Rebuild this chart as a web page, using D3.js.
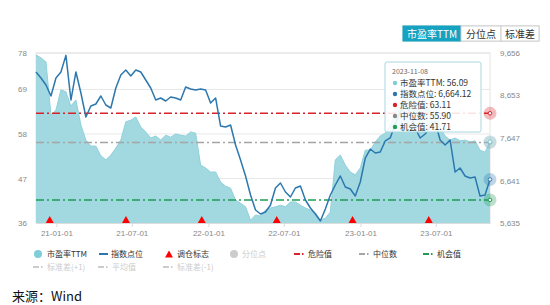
<!DOCTYPE html>
<html>
<head>
<meta charset="utf-8">
<script src="https://cdn.jsdelivr.net/npm/d3@7"></script>
<style>
  body { margin: 0; background: #fff; }
  svg { display: block; font-family: "Noto Sans CJK SC", "Noto Sans", sans-serif; }
</style>
</head>
<body>
<svg id="chart" width="550" height="305"></svg>
<script>
// data
const startDate = "2020-11-13";
const endDate = "2023-11-08";

const peTTM = [
  77.5, 76.8, 75.8, 62.7, 63.9, 68.9, 68.4, 64.9, 66.4, 60.2,
  56.5, 55.0, 55.0, 52.6, 51.6, 52.8, 54.5, 56.5, 61.0, 61.4,
  62.2, 59.7, 58.5, 57.0, 57.5, 56.5, 57.7, 57.2, 58.0, 57.7,
  57.5, 58.5, 58.2, 50.3, 49.6, 48.6, 48.6, 46.1, 45.1, 44.6,
  41.7, 40.9, 40.0, 36.7, 38.0, 37.7, 39.2, 39.7, 40.0, 40.4,
  40.0, 41.2, 41.2, 40.4, 39.7, 39.2, 38.5, 36.7, 37.2, 38.7,
  51.6, 52.8, 50.3, 48.6, 47.9, 49.6, 54.0, 54.0, 56.0, 57.5,
  58.2, 60.0, 63.4, 65.9, 67.4, 66.4, 68.4, 65.4, 66.9, 64.4,
  65.4, 59.5, 57.5, 56.5, 57.0, 56.3, 56.5, 56.0, 56.3, 54.0,
  53.5, 56.09
];

const indexLevel = [
  9207, 9065, 8899, 8639, 9065, 9207, 9600, 8544, 9207, 8710,
  8142, 8402, 8450, 8639, 8426, 8355, 8828, 9136, 9254, 9112,
  9254, 9207, 9017, 8828, 8544, 8592, 8521, 8615, 8592, 8544,
  8852, 8805, 8781, 8805, 8781, 8473, 8592, 7929, 7906, 7953,
  7480, 7125, 6747, 6297, 5942, 5848, 5895, 6061, 6463, 6581,
  6368, 6250, 6463, 6510, 6179, 5990, 5848, 5682, 5966, 6297,
  6534, 6747, 6487, 6439, 6274, 6605, 7172, 7385, 7291, 7314,
  7575, 7646, 7977, 8260, 8426, 8260, 7882, 7646, 7740, 7906,
  8024, 7598, 7480, 7598, 6841, 6936, 6747, 6699, 6723, 6274,
  6297, 6664.12
];

const rebalanceDates = ["2020-12-16", "2021-06-17", "2021-12-16", "2022-06-14", "2022-12-13", "2023-06-14"];
const xTickDates = ["2021-01-01", "2021-07-01", "2022-01-01", "2022-07-01", "2023-01-01", "2023-07-01"];
const peTicks = [36, 47, 58, 69, 78];
const indexTicks = [5635, 6641, 7647, 8653, 9656];

const refNames = ["危险值", "中位数", "机会值"];
const refValues = [63.11, 55.90, 41.71];

const tabNames = ["市盈率TTM", "分位点", "标准差"];

// styles
const refColors = ["#d8232a", "#a5a5a5", "#1f9d55"];
const peColor = "#7fcdd8";
const areaColor = "#a2d9e1";
const indexColor = "#2c78ae";

const width = 550, height = 305;
const margin = { top: 53, right: 60, bottom: 82, left: 36 };

const svg = d3.select("#chart");
const parse = d3.timeParse("%Y-%m-%d");
const t0 = parse(startDate), t1 = parse(endDate);
const n = peTTM.length;
const dates = d3.range(n).map(i => new Date(+t0 + (t1 - t0) * i / (n - 1)));

const x = d3.scaleTime()
  .domain([t0, t1])
  .range([margin.left, width - margin.right]);

const yL = d3.scaleLinear()
  .domain([36, 78])
  .range([height - margin.bottom, margin.top]);

const yR = d3.scaleLinear()
  .domain([5635, 9656])
  .range([height - margin.bottom, margin.top]);

const x0 = margin.left, x1 = width - margin.right;
const yBottom = height - margin.bottom;

// grid
svg.append("g")
  .selectAll("line")
  .data(peTicks.slice(1))
  .join("line")
  .attr("x1", x0).attr("x2", x1)
  .attr("y1", d => yL(d)).attr("y2", d => yL(d))
  .attr("stroke", "#e8e8e8");

svg.append("rect")
  .attr("x", x0).attr("y", margin.top)
  .attr("width", x1 - x0).attr("height", yBottom - margin.top)
  .attr("fill", "none")
  .attr("stroke", "#e4e4e4");

// PE area
const area = d3.area()
  .x((d, i) => x(dates[i]))
  .y0(yBottom)
  .y1(d => yL(d));

svg.append("path")
  .datum(peTTM)
  .attr("d", area)
  .attr("fill", areaColor);

svg.append("path")
  .datum(peTTM)
  .attr("d", d3.line().x((d, i) => x(dates[i])).y(d => yL(d)))
  .attr("fill", "none")
  .attr("stroke", "#8fd1dc")
  .attr("stroke-width", 1);

// reference lines
svg.append("g")
  .selectAll("line")
  .data(refValues)
  .join("line")
  .attr("x1", x0).attr("x2", x1)
  .attr("y1", d => yL(d)).attr("y2", d => yL(d))
  .attr("stroke", (d, i) => refColors[i])
  .attr("stroke-width", 1.5)
  .attr("stroke-dasharray", "8,3,2,3");

// index line
svg.append("path")
  .datum(indexLevel)
  .attr("d", d3.line().x((d, i) => x(dates[i])).y(d => yR(d)))
  .attr("fill", "none")
  .attr("stroke", indexColor)
  .attr("stroke-width", 1.5)
  .attr("stroke-linejoin", "round");

// x axis
const xAxis = svg.append("g")
  .attr("transform", `translate(0,${yBottom})`)
  .call(d3.axisBottom(x)
    .tickValues(xTickDates.map(parse))
    .tickFormat(d3.timeFormat("%y-%m-%d"))
    .tickSize(4)
    .tickSizeOuter(0));
xAxis.select(".domain").attr("stroke", "#dcdcdc");
xAxis.selectAll(".tick line").attr("stroke", "#dcdcdc");
xAxis.selectAll(".tick text").attr("fill", "#888").attr("font-size", 8);

// rebalance markers
svg.append("g")
  .selectAll("path")
  .data(rebalanceDates.map(parse))
  .join("path")
  .attr("d", d => {
    const cx = x(d);
    return `M${cx - 4},${yBottom} L${cx},${yBottom - 7} L${cx + 4},${yBottom} Z`;
  })
  .attr("fill", "#ff0000");

// y axes
const leftAxis = svg.append("g")
  .attr("transform", `translate(${x0},0)`)
  .call(d3.axisLeft(yL).tickValues(peTicks).tickSize(0).tickPadding(9));
leftAxis.select(".domain").remove();
leftAxis.selectAll("text").attr("fill", "#888").attr("font-size", 8);

const rightAxis = svg.append("g")
  .attr("transform", `translate(${x1},0)`)
  .call(d3.axisRight(yR).tickValues(indexTicks).tickFormat(d3.format(",")).tickSize(0).tickPadding(10));
rightAxis.select(".domain").remove();
rightAxis.selectAll("text").attr("fill", "#888").attr("font-size", 8);

// hover markers at last point
const lastPE = peTTM[n - 1], lastIdx = indexLevel[n - 1];
const markers = [
  { y: yL(refValues[0]), c: refColors[0] },
  { y: yL(refValues[1]), c: refColors[1] },
  { y: yL(lastPE), c: peColor },
  { y: yR(lastIdx), c: indexColor },
  { y: yL(refValues[2]), c: refColors[2] }
];
const mg = svg.append("g");
markers.forEach(m => {
  mg.append("circle").attr("cx", x1).attr("cy", m.y).attr("r", 6.5)
    .attr("fill", m.c).attr("fill-opacity", 0.3);
  mg.append("circle").attr("cx", x1).attr("cy", m.y).attr("r", 1.8)
    .attr("fill", "#fff").attr("stroke", m.c).attr("stroke-width", 1);
});

// tooltip
const tip = svg.append("g").attr("transform", "translate(385,62)");
tip.append("rect")
  .attr("width", 96).attr("height", 70).attr("rx", 2)
  .attr("fill", "#fff").attr("fill-opacity", 0.88)
  .attr("stroke", "#a9d8e0");
tip.append("text")
  .attr("x", 7).attr("y", 12)
  .attr("font-size", 7).attr("fill", "#666")
  .text(d3.timeFormat("%Y-%m-%d")(t1));
const tipRows = [
  { name: "市盈率TTM", v: d3.format(".2f")(lastPE), c: peColor },
  { name: "指数点位", v: d3.format(",.2f")(lastIdx), c: indexColor },
  { name: refNames[0], v: d3.format(".2f")(refValues[0]), c: refColors[0] },
  { name: refNames[1], v: d3.format(".2f")(refValues[1]), c: "#888" },
  { name: refNames[2], v: d3.format(".2f")(refValues[2]), c: refColors[2] }
];
tipRows.forEach((r, i) => {
  const cy = 21 + i * 11;
  tip.append("circle").attr("cx", 10).attr("cy", cy).attr("r", 2.2).attr("fill", r.c);
  tip.append("text").attr("x", 15).attr("y", cy + 3)
    .attr("font-size", 8.5).attr("fill", "#333")
    .text(`${r.name}: ${r.v}`);
});

// tabs
const tabX = [403, 461, 501, 539];
const tabs = svg.append("g");
tabs.append("rect").attr("x", tabX[0]).attr("y", 26).attr("width", tabX[3] - tabX[0]).attr("height", 15)
  .attr("fill", "#fff").attr("stroke", "#d0d0d0");
tabNames.forEach((t, i) => {
  tabs.append("rect").attr("x", tabX[i]).attr("y", 26)
    .attr("width", tabX[i + 1] - tabX[i]).attr("height", 15)
    .attr("fill", i === 0 ? "#16a3c1" : "#fff")
    .attr("stroke", i === 0 ? "#16a3c1" : "#d0d0d0");
  tabs.append("text")
    .attr("x", (tabX[i] + tabX[i + 1]) / 2).attr("y", 37.5)
    .attr("text-anchor", "middle").attr("font-size", 10)
    .attr("fill", i === 0 ? "#fff" : "#333")
    .text(t);
});

// legend
const lg = svg.append("g").attr("font-size", 8);
const row1 = 254, row2 = 267;
lg.append("circle").attr("cx", 38).attr("cy", row1).attr("r", 4).attr("fill", peColor);
lg.append("text").attr("x", 47).attr("y", row1 + 3).attr("fill", "#333").text("市盈率TTM");
lg.append("line").attr("x1", 99).attr("x2", 108).attr("y1", row1).attr("y2", row1)
  .attr("stroke", indexColor).attr("stroke-width", 2);
lg.append("text").attr("x", 111).attr("y", row1 + 3).attr("fill", "#333").text("指数点位");
lg.append("path").attr("d", `M165,${row1 + 3.5} L169,${row1 - 3.5} L173,${row1 + 3.5} Z`).attr("fill", "#ff0000");
lg.append("text").attr("x", 177).attr("y", row1 + 3).attr("fill", "#333").text("调仓标志");
lg.append("circle").attr("cx", 234).attr("cy", row1).attr("r", 4).attr("fill", "#ccc");
lg.append("text").attr("x", 242).attr("y", row1 + 3).attr("fill", "#ccc").text("分位点");

const dashItems = [
  { x: 294, y: row1, c: refColors[0], t: refNames[0], tc: "#333" },
  { x: 359, y: row1, c: refColors[1], t: refNames[1], tc: "#333" },
  { x: 423, y: row1, c: refColors[2], t: refNames[2], tc: "#333" },
  { x: 33, y: row2, c: "#ccc", t: "标准差(+1)", tc: "#ccc" },
  { x: 98, y: row2, c: "#ccc", t: "平均值", tc: "#ccc" },
  { x: 163, y: row2, c: "#ccc", t: "标准差(-1)", tc: "#ccc" }
];
dashItems.forEach(d => {
  lg.append("line").attr("x1", d.x).attr("x2", d.x + 11).attr("y1", d.y).attr("y2", d.y)
    .attr("stroke", d.c).attr("stroke-width", 2).attr("stroke-dasharray", "6,2,1.5,2");
  lg.append("text").attr("x", d.x + 14).attr("y", d.y + 3).attr("fill", d.tc).text(d.t);
});

// source
svg.append("text")
  .attr("x", 12).attr("y", 301)
  .attr("font-size", 13).attr("fill", "#111")
  .text("来源：Wind");
</script>
</body>
</html>
